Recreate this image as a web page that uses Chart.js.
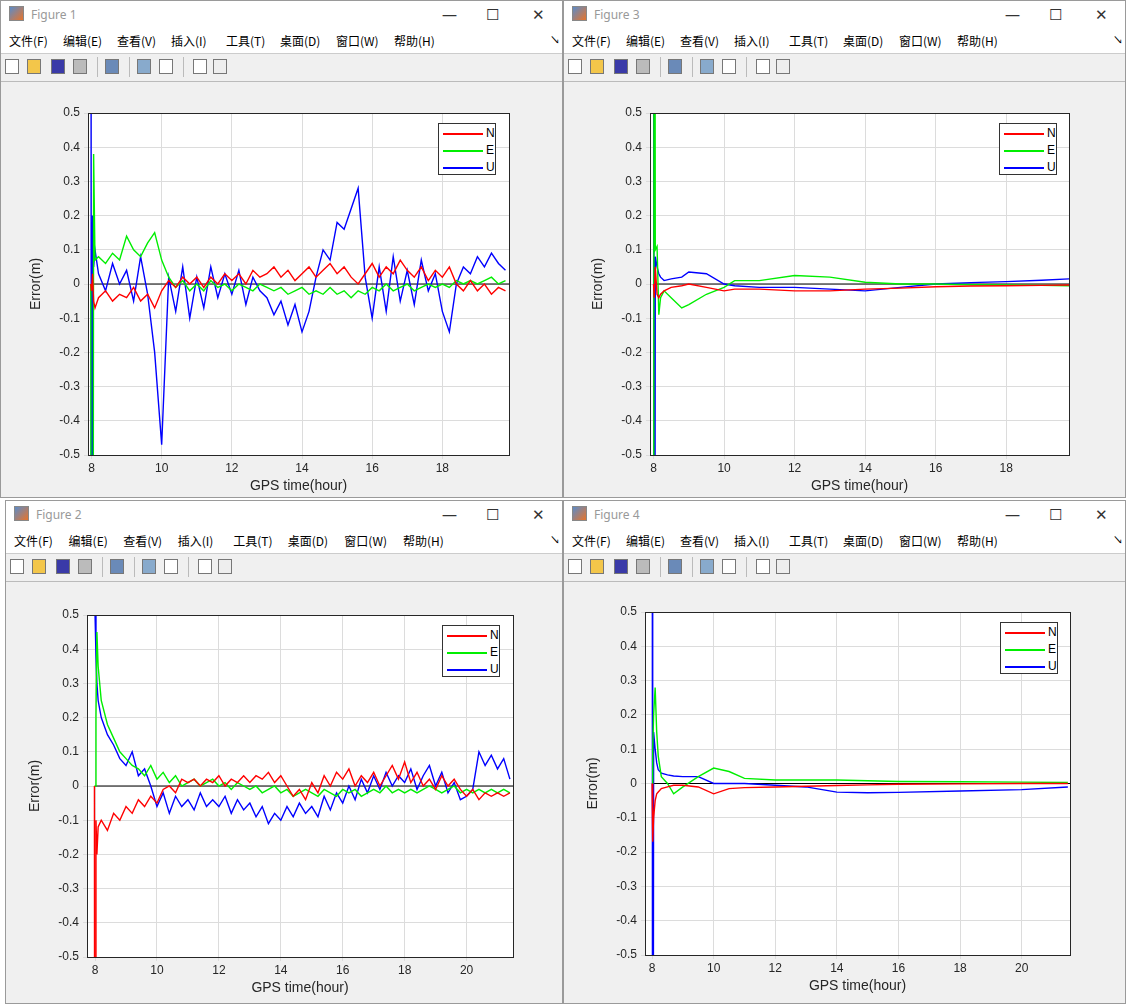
<!DOCTYPE html>
<html><head><meta charset="utf-8">
<script src="https://cdn.jsdelivr.net/npm/chart.js@4"></script>
<style>
body{margin:0;width:1126px;height:1004px;background:#fff;position:relative;overflow:hidden;font-family:"Liberation Sans",Arial,sans-serif}
.win{position:absolute;background:#f0f0f0;border:1px solid #9a9a9a;box-sizing:border-box;overflow:hidden}
.title{position:absolute;left:0;right:0;top:0;height:26px;background:#fff;font-family:"Noto Sans",sans-serif;font-size:12px;color:#999}
.title .ic{position:absolute;left:8px;top:5px;width:15px;height:15px;background:linear-gradient(135deg,#5b8cc9,#e8742a);border:1px solid #888;box-sizing:border-box}
.title .t{position:absolute;left:30px;top:5px}
.title .b{position:absolute;top:3px;font-size:15px;color:#333}
.menu{position:absolute;left:0;right:0;top:26px;height:26px;background:#fff;font-family:"Noto Sans CJK SC",sans-serif;font-size:12px;color:#000;border-bottom:1px solid #ccc}
.menu span{position:absolute;top:5px}
.tool{position:absolute;left:0;right:0;top:53px;height:27px;background:#f0f0f0;border-bottom:1px solid #bbb}
.tool i{position:absolute;top:5px;width:14px;height:15px;box-sizing:border-box;border:1px solid #777}
.tool u{position:absolute;top:3px;width:1px;height:20px;background:#bbb}
canvas{position:absolute;z-index:1}
.leg{position:absolute;z-index:5;width:58px;height:52px;background:#fff;border:1px solid #333;box-sizing:border-box;font-size:12px}
.leg b{position:absolute;left:4px;width:40px;height:2px;display:block}
.leg span{position:absolute;left:47px}
</style></head><body>
<script>
// ---- data ----
const seriesNames = ["N", "E", "U"];
const seriesColors = ["#ff0000", "#00ee00", "#0000ff"];
const yTicks = [-0.5,-0.4,-0.3,-0.2,-0.1,0,0.1,0.2,0.3,0.4,0.5];
const xTicks1 = [8,10,12,14,16,18];
const xTicks2 = [8,10,12,14,16,18,20];

const t1 = [7.98,8.0,8.03,8.06,8.1, 8.2,8.4,8.6,8.8,
 9.0,9.2,9.4,9.6,9.8, 10.0,10.2,10.4,10.6,10.8, 11.0,11.2,11.4,11.6,11.8, 12.0,12.2,12.4,12.6,12.8,
 13.0,13.2,13.4,13.6,13.8, 14.0,14.2,14.4,14.6,14.8, 15.0,15.2,15.4,15.6,15.8, 16.0,16.2,16.4,16.6,16.8,
 17.0,17.2,17.4,17.6,17.8, 18.0,18.2,18.4,18.6,18.8, 19.0,19.2,19.4,19.6,19.8];
const n1 = [0,-0.02,0.03,-0.05,-0.07, -0.04,-0.02,-0.05,-0.03,
 -0.04,-0.01,-0.05,-0.03,-0.07, -0.02,0.01,-0.01,0.02,0.0, 0.02,-0.01,0.02,0.0,0.03, 0.01,0.03,0.0,0.04,0.02,
 0.03,0.05,0.02,0.04,0.01, 0.03,0.05,0.02,0.04,0.06, 0.03,0.05,0.02,0.0,0.03, 0.06,0.02,0.05,0.03,0.07,
 0.04,0.02,0.05,0.01,0.04, 0.02,0.05,0.0,-0.02,0.01, -0.02,0.0,-0.03,-0.01,-0.02];
const e1 = [0,-3,-3,0.38,0.07, 0.08,0.06,0.09,0.07,
 0.14,0.1,0.08,0.12,0.15, 0.07,0.02,-0.01,0.01,-0.02, 0.0,-0.02,0.01,-0.01,0.0, -0.02,0.0,-0.01,-0.02,0.0,
 -0.01,-0.02,-0.01,-0.03,-0.02, -0.01,-0.03,-0.02,-0.03,-0.01, -0.03,-0.02,-0.04,-0.02,-0.03, -0.01,-0.02,0.0,-0.02,-0.01,
 0.0,-0.02,-0.01,0.0,-0.01, 0.0,-0.01,0.01,0.0,0.01, 0.0,0.01,0.02,0.0,0.01];
const u1 = [3,-3,0.2,0.05,0.1, 0.03,-0.02,0.06,0.0,
 0.04,-0.05,0.08,-0.03,-0.2, -0.47,0.02,-0.08,0.05,-0.1, 0.02,-0.07,0.05,-0.04,0.03, -0.03,0.04,-0.06,0.02,-0.02,
 -0.04,-0.09,-0.05,-0.12,-0.06, -0.14,-0.08,0.02,0.1,0.07, 0.18,0.16,0.22,0.28,0.02, -0.1,0.05,-0.08,0.08,-0.05,
 0.04,-0.06,0.07,-0.02,0.03, -0.08,-0.14,0.0,0.05,0.03, 0.08,0.05,0.09,0.06,0.04];

const t3 = [8.0,8.02,8.05,8.1,8.15,8.2,8.3,8.5,8.8,9.0,9.5,10.0,10.3,11,12,13,14,15,16,17,18,19,19.8];
const n3 = [0,-0.04,0.05,-0.03,-0.04,-0.03,-0.02,-0.01,-0.005,0,-0.01,-0.02,-0.015,-0.015,-0.02,-0.02,-0.015,-0.012,-0.008,-0.006,-0.005,-0.004,-0.003];
const e3 = [-3,3,0.1,0.11,-0.09,-0.04,-0.02,-0.04,-0.07,-0.06,-0.03,-0.01,0.01,0.01,0.025,0.02,0.005,0.0,0.0,-0.002,-0.003,-0.004,-0.005];
const u3 = [3,-3,0.08,0.05,0.03,0.02,0.01,0.015,0.02,0.035,0.03,0.0,-0.005,-0.01,-0.01,-0.015,-0.02,-0.01,0.0,0.004,0.007,0.011,0.015];

const t2 = [7.98,8.0,8.03,8.06,8.1, 8.2,8.4,8.6,8.8,
 9.0,9.2,9.4,9.6,9.8, 10.0,10.2,10.4,10.6,10.8, 11.0,11.2,11.4,11.6,11.8, 12.0,12.2,12.4,12.6,12.8,
 13.0,13.2,13.4,13.6,13.8, 14.0,14.2,14.4,14.6,14.8, 15.0,15.2,15.4,15.6,15.8, 16.0,16.2,16.4,16.6,16.8,
 17.0,17.2,17.4,17.6,17.8, 18.0,18.2,18.4,18.6,18.8, 19.0,19.2,19.4,19.6,19.8, 20.0,20.2,20.4,20.6,20.8, 21.0,21.2,21.4];
const n2 = [0,-3,-0.1,-0.2,-0.12, -0.1,-0.13,-0.08,-0.1,
 -0.06,-0.08,-0.04,-0.06,-0.03, -0.05,-0.01,0.0,-0.02,0.02, 0.01,0.02,0.0,0.02,0.01, 0.03,0.0,0.02,0.01,0.03,
 0.01,0.03,0.02,0.04,0.01, 0.03,0.0,-0.03,-0.01,-0.04, 0.01,-0.02,0.03,0.0,0.04, 0.02,0.05,0.0,0.03,0.01,
 0.04,0.0,0.03,0.06,0.02, 0.07,0.01,0.04,0.0,0.02, -0.01,0.03,0.0,0.02,-0.01, -0.03,-0.01,-0.04,-0.02,-0.03, -0.02,-0.03,-0.02];
const e2 = [0,0,0.2,0.45,0.35, 0.25,0.18,0.14,0.1,
 0.08,0.06,0.05,0.03,0.06, 0.02,0.04,0.01,0.03,0.0, 0.01,0.02,0.0,0.01,0.02, 0.0,0.01,-0.01,0.01,0.0,
 -0.01,0.0,-0.02,-0.01,0.0, -0.02,-0.01,-0.03,-0.02,-0.01, -0.02,-0.03,-0.01,-0.02,-0.03, -0.01,-0.02,-0.01,-0.03,-0.02,
 -0.01,-0.02,0.0,-0.02,-0.01, -0.02,-0.01,-0.02,-0.01,0.0, -0.01,-0.02,-0.01,0.0,-0.02, -0.01,-0.02,-0.01,-0.02,-0.01, -0.02,-0.01,-0.02];
const u2 = [3,0.5,0.38,0.3,0.25, 0.2,0.15,0.12,0.08,
 0.06,0.1,0.03,0.05,0.0, -0.06,-0.02,-0.08,-0.03,-0.06, -0.04,-0.07,-0.02,-0.06,-0.04, -0.06,-0.03,-0.08,-0.04,-0.07,
 -0.05,-0.09,-0.06,-0.11,-0.08, -0.1,-0.06,-0.09,-0.05,-0.08, -0.06,-0.09,-0.03,-0.07,-0.02, -0.05,0.0,-0.04,0.02,-0.02,
 0.03,-0.01,0.04,0.0,0.03, 0.01,0.05,-0.01,0.03,0.06, 0.0,0.04,-0.02,0.01,-0.04, -0.03,-0.01,0.1,0.06,0.09, 0.05,0.08,0.02];

const t4 = [8.0,8.02,8.05,8.1,8.15,8.2,8.3,8.5,8.7,9.0,9.5,10.0,10.5,11,12,13,14,15,16,18,20,21.5];
const n4 = [0,-0.17,-0.1,-0.05,-0.03,-0.025,-0.015,-0.01,-0.005,-0.005,-0.01,-0.03,-0.015,-0.012,-0.01,-0.008,-0.006,-0.004,-0.002,-0.001,0,0];
const e4 = [0,0.1,0.2,0.28,0.15,0.08,0.02,0.0,-0.03,-0.01,0.02,0.045,0.035,0.015,0.01,0.01,0.01,0.008,0.006,0.005,0.004,0.003];
const u4 = [3,-3,0.15,0.1,0.06,0.04,0.03,0.025,0.022,0.02,0.02,0.0,0.0,0.0,-0.005,-0.01,-0.025,-0.027,-0.026,-0.022,-0.018,-0.01];

// ---- window chrome ----
const menuItems = ["文件(F)","编辑(E)","查看(V)","插入(I)","工具(T)","桌面(D)","窗口(W)","帮助(H)"];
function makeWin(name, x, y, w, h, menuStep) {
    const d = document.createElement("div");
    d.className = "win";
    d.style.cssText = `left:${x}px;top:${y}px;width:${w}px;height:${h}px`;
    let html = `<div class="title"><div class="ic"></div><span class="t">${name}</span>
      <span class="b" style="left:${w-122}px">&#8212;</span><span class="b" style="left:${w-78}px">&#9744;</span><span class="b" style="left:${w-32}px">&#10005;</span></div><div class="menu">`;
    const mx = [8,62,116,170,225,279,335,393];
    menuItems.forEach((m, i) => html += `<span style="left:${mx[i]*menuStep}px">${m}</span>`);
    html += `<span style="left:${w-14}px;font-size:10px">&#8600;</span></div><div class="tool">`;
    const icons = [[4,"#fff"],[26,"#f3c64a"],[50,"#3a3aa8"],[72,"#bbb"],[104,"#6a8ab8"],[136,"#8ac"],[158,"#fff"],[192,"#fff"],[212,"#eee"]];
    icons.forEach(ic => html += `<i style="left:${ic[0]}px;background:${ic[1]}"></i>`);
    [96,128,182].forEach(s => html += `<u style="left:${s}px"></u>`);
    html += `</div>`;
    d.innerHTML = html;
    document.body.appendChild(d);
}
makeWin("Figure 1", 0, 0, 563, 498, 1);
makeWin("Figure 3", 563, 0, 563, 498, 1);
makeWin("Figure 2", 5, 500, 558, 504, 1.01);
makeWin("Figure 4", 563, 500, 563, 504, 1);

const whiteArea = {
    id: "whiteArea",
    beforeDraw(c) {
        const a = c.chartArea, ctx = c.ctx;
        ctx.save(); ctx.fillStyle = "#fff";
        ctx.fillRect(a.left, a.top, a.right - a.left, a.bottom - a.top);
        ctx.restore();
    },
    afterDraw(c) {
        const a = c.chartArea, ctx = c.ctx;
        ctx.save(); ctx.strokeStyle = "#262626"; ctx.lineWidth = 1;
        ctx.strokeRect(a.left + 0.5, a.top + 0.5, a.right - a.left, a.bottom - a.top);
        ctx.restore();
    }
};

const legends = [];
function makeFig(box, pad, xmin, xmax, xt, t, n, e, u, legPos) {
    const cv = document.createElement("canvas");
    cv.style.left = box[0] + "px"; cv.style.top = box[1] + "px";
    cv.style.width = box[2] + "px"; cv.style.height = box[3] + "px";
    cv.width = box[2]; cv.height = box[3];
    document.body.appendChild(cv);
    const pts = arr => t.map((x, i) => ({ x: x, y: arr[i] }));
    const ds = [n, e, u].map((arr, i) => ({
        label: seriesNames[i], data: pts(arr), borderColor: seriesColors[i],
        borderWidth: 1.4, pointRadius: 0, tension: 0
    }));
    ds.push({ label: "zero", data: [{ x: 8, y: 0 }, { x: xmax, y: 0 }], borderColor: "#000", borderWidth: 1, pointRadius: 0 });
    new Chart(cv, {
        type: "line",
        data: { datasets: ds },
        options: {
            responsive: false, animation: false,
            layout: { padding: pad },
            plugins: { legend: { display: false }, tooltip: { enabled: false } },
            scales: {
                x: {
                    type: "linear", min: xmin, max: xmax,
                    afterBuildTicks: s => { s.ticks = xt.map(v => ({ value: v })); },
                    afterFit: s => { s.height = 40; },
                    grid: { color: "#dcdcdc", tickLength: 4 },
                    border: { color: "#262626" },
                    ticks: { color: "#262626", font: { size: 12, family: "Liberation Sans" }, padding: 2, maxRotation: 0 },
                    title: { display: true, text: "GPS time(hour)", color: "#262626", font: { size: 14, family: "Liberation Sans" }, padding: 0 }
                },
                y: {
                    min: -0.5, max: 0.5,
                    afterBuildTicks: s => { s.ticks = yTicks.map(v => ({ value: v })); },
                    afterFit: s => { s.width = 60; },
                    grid: { color: "#dcdcdc", tickLength: 4 },
                    border: { color: "#262626" },
                    ticks: { color: "#262626", font: { size: 12, family: "Liberation Sans" }, padding: 4,
                        callback: v => v === 0 ? "0" : v.toFixed(1) },
                    title: { display: true, text: "Error(m)", color: "#262626", font: { size: 14, family: "Liberation Sans" }, padding: 0 }
                }
            }
        },
        plugins: [whiteArea]
    });
    legends.push(legPos);
}

makeFig([1, 97, 561, 400], { left: 27, right: 53, top: 16, bottom: 2 }, 7.9, 19.9, xTicks1, t1, n1, e1, u1, [438, 123]);
makeFig([564, 97, 561, 400], { left: 26, right: 56, top: 16, bottom: 2 }, 7.9, 19.78, xTicks1, t3, n3, e3, u3, [999, 123]);
makeFig([6, 598, 556, 405], { left: 21, right: 49, top: 17, bottom: 6 }, 7.74, 21.5, xTicks2, t2, n2, e2, u2, [442, 625]);
makeFig([564, 598, 561, 405], { left: 21, right: 55, top: 14, bottom: 8 }, 7.77, 21.57, xTicks2, t4, n4, e4, u4, [1000, 622]);

// legends last so they sit above every canvas
legends.forEach(p => {
    const lg = document.createElement("div");
    lg.className = "leg";
    lg.style.left = p[0] + "px"; lg.style.top = p[1] + "px";
    lg.innerHTML = seriesNames.map((s, i) =>
        `<b style="top:${9 + i * 17}px;background-color:${seriesColors[i]}"></b><span style="top:${2 + i * 17}px">${s}</span>`).join("");
    document.body.appendChild(lg);
});
</script>
</body></html>
